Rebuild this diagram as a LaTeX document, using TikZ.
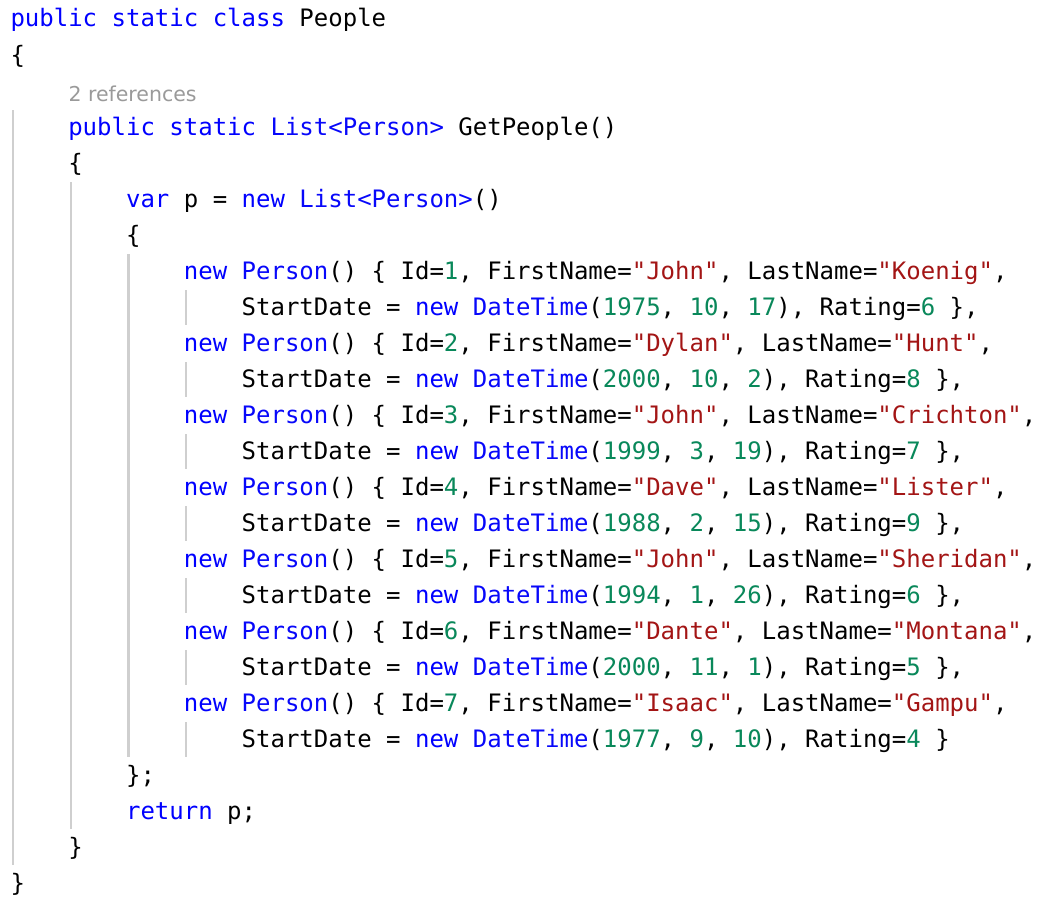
\documentclass[tikz,border=0pt]{standalone}
\usepackage{fontspec}
\setmonofont{DejaVu Sans Mono}
\newfontfamily\reffont{DejaVu Sans}
\definecolor{kwblue}{HTML}{0000FF}
\definecolor{tyblue}{HTML}{0808FA}
\definecolor{strred}{HTML}{A31515}
\definecolor{numgreen}{HTML}{09885A}
\definecolor{guidegray}{HTML}{CFCFCF}
\definecolor{refgray}{HTML}{9A9A9A}
\def\ckw#1{\textcolor{kwblue}{#1}}
\def\cty#1{\textcolor{tyblue}{#1}}
\def\cstr#1{\textcolor{strred}{#1}}
\def\cnum#1{\textcolor{numgreen}{#1}}
\tikzset{
  code/.style={anchor=base west, inner sep=0pt, outer sep=0pt, font=\ttfamily\fontsize{24}{36}\selectfont},
  refs/.style={anchor=base west, inner sep=0pt, outer sep=0pt, text=refgray, font=\reffont\fontsize{20.5}{30}\selectfont},
  guide/.style={line width=2.2pt, color=guidegray}
}
\begin{document}
\begin{tikzpicture}[x=1pt, y=-1pt]
			%%%%% START %%%%%
			
			\fill[white] (0, 0) rectangle (1058, 910);
			\useasboundingbox (0, 0) rectangle (1058, 910);
			
			% indent guides
			\draw[guide] (13, 110) -- (13, 865);
			\draw[guide] (71, 182) -- (71, 829);
			\draw[guide] (128.5, 254) -- (128.5, 757);
			\draw[guide] (186, 290) -- (186, 325);
			\draw[guide] (186, 362) -- (186, 397);
			\draw[guide] (186, 434) -- (186, 469);
			\draw[guide] (186, 506) -- (186, 541);
			\draw[guide] (186, 578) -- (186, 613);
			\draw[guide] (186, 650) -- (186, 685);
			\draw[guide] (186, 722) -- (186, 757);
			
			\node[code] (cls) at (10.5, 27) {\ckw{public static class} People};
			\node[code] (clsopen) at (10.5, 63) {\{};
			\node[refs] (nrefs) at (68.5, 101.5) {2 references};
			\node[code] (getp) at (68.3, 135) {\ckw{public static} \cty{List<Person>} GetPeople()};
			\node[code] (getpopen) at (68.3, 171) {\{};
			\node[code] (varp) at (126.1, 207) {\ckw{var} p = \ckw{new} \cty{List<Person>}()};
			\node[code] (listopen) at (126.1, 243) {\{};
			
			\node[code] (pa1) at (183.9, 279) {\ckw{new} \cty{Person}() \{ Id=\cnum{1}, FirstName=\cstr{"John"}, LastName=\cstr{"Koenig"},};
			\node[code] (pb1) at (241.7, 315) {StartDate = \ckw{new} \cty{DateTime}(\cnum{1975}, \cnum{10}, \cnum{17}), Rating=\cnum{6} \},};
			\node[code] (pa2) at (183.9, 351) {\ckw{new} \cty{Person}() \{ Id=\cnum{2}, FirstName=\cstr{"Dylan"}, LastName=\cstr{"Hunt"},};
			\node[code] (pb2) at (241.7, 387) {StartDate = \ckw{new} \cty{DateTime}(\cnum{2000}, \cnum{10}, \cnum{2}), Rating=\cnum{8} \},};
			\node[code] (pa3) at (183.9, 423) {\ckw{new} \cty{Person}() \{ Id=\cnum{3}, FirstName=\cstr{"John"}, LastName=\cstr{"Crichton"},};
			\node[code] (pb3) at (241.7, 459) {StartDate = \ckw{new} \cty{DateTime}(\cnum{1999}, \cnum{3}, \cnum{19}), Rating=\cnum{7} \},};
			\node[code] (pa4) at (183.9, 495) {\ckw{new} \cty{Person}() \{ Id=\cnum{4}, FirstName=\cstr{"Dave"}, LastName=\cstr{"Lister"},};
			\node[code] (pb4) at (241.7, 531) {StartDate = \ckw{new} \cty{DateTime}(\cnum{1988}, \cnum{2}, \cnum{15}), Rating=\cnum{9} \},};
			\node[code] (pa5) at (183.9, 567) {\ckw{new} \cty{Person}() \{ Id=\cnum{5}, FirstName=\cstr{"John"}, LastName=\cstr{"Sheridan"},};
			\node[code] (pb5) at (241.7, 603) {StartDate = \ckw{new} \cty{DateTime}(\cnum{1994}, \cnum{1}, \cnum{26}), Rating=\cnum{6} \},};
			\node[code] (pa6) at (183.9, 639) {\ckw{new} \cty{Person}() \{ Id=\cnum{6}, FirstName=\cstr{"Dante"}, LastName=\cstr{"Montana"},};
			\node[code] (pb6) at (241.7, 675) {StartDate = \ckw{new} \cty{DateTime}(\cnum{2000}, \cnum{11}, \cnum{1}), Rating=\cnum{5} \},};
			\node[code] (pa7) at (183.9, 711) {\ckw{new} \cty{Person}() \{ Id=\cnum{7}, FirstName=\cstr{"Isaac"}, LastName=\cstr{"Gampu"},};
			\node[code] (pb7) at (241.7, 747) {StartDate = \ckw{new} \cty{DateTime}(\cnum{1977}, \cnum{9}, \cnum{10}), Rating=\cnum{4} \}};
			
			\node[code] (listclose) at (126.1, 783) {\};};
			\node[code] (ret) at (126.1, 819) {\ckw{return} p;};
			\node[code] (getpclose) at (68.3, 855) {\}};
			\node[code] (clsclose) at (10.5, 891) {\}};
			
			%%%%% END %%%%%
\end{tikzpicture}
\end{document}
